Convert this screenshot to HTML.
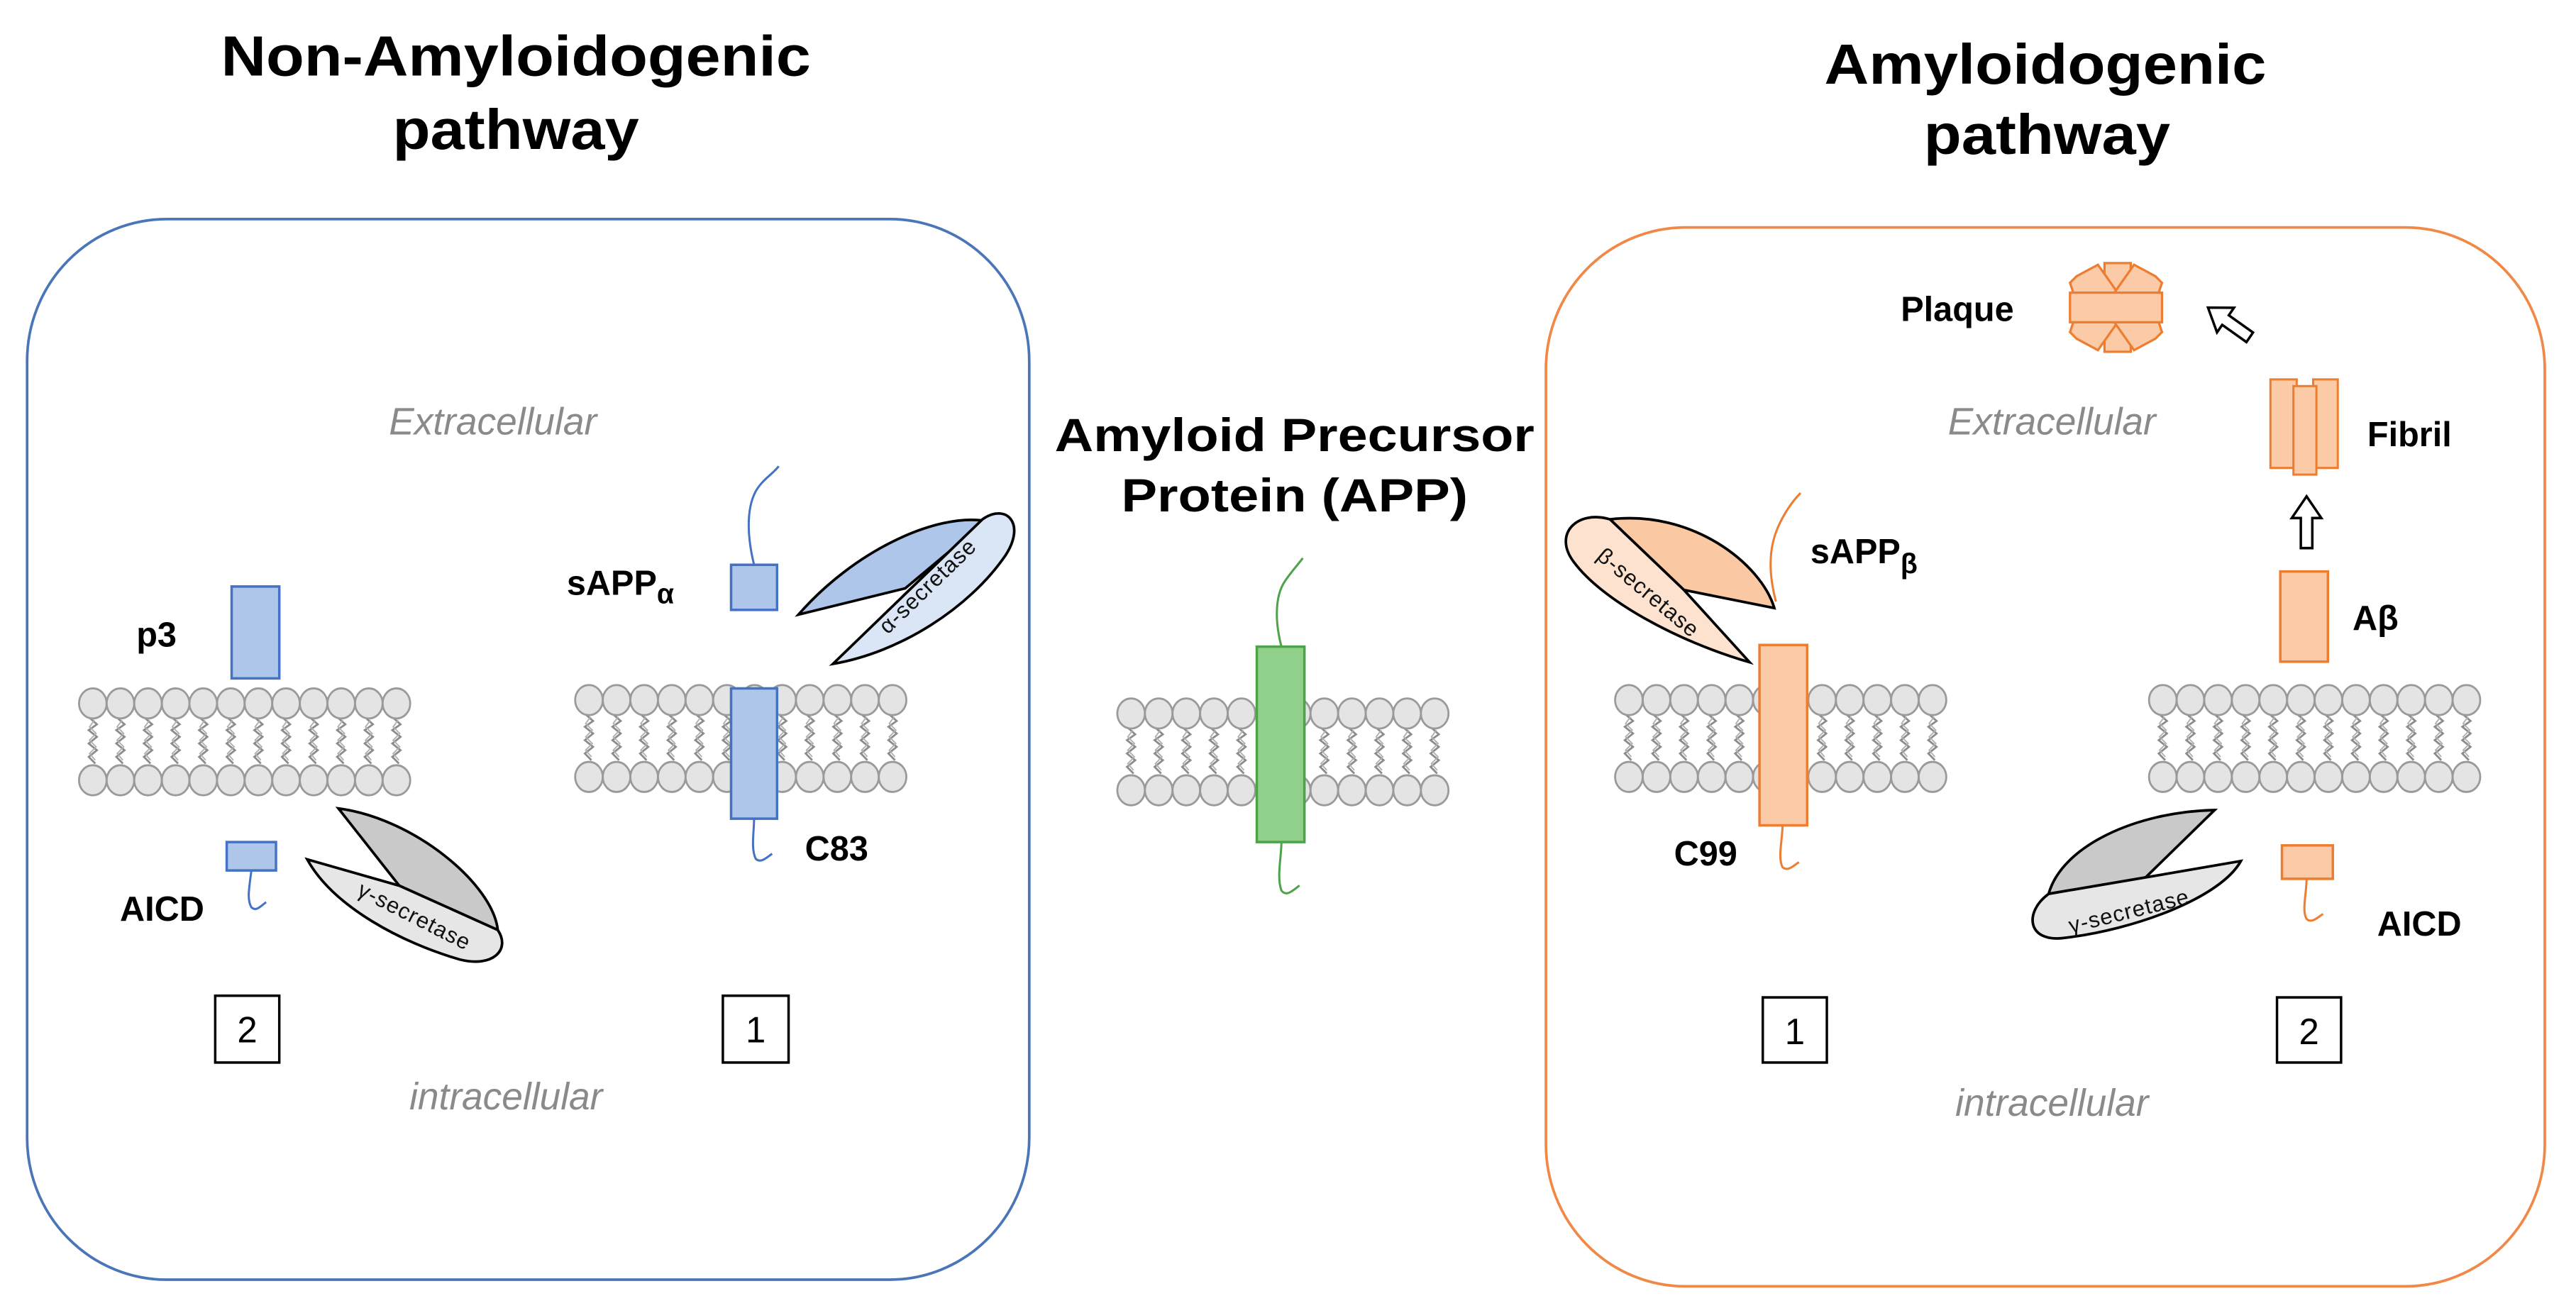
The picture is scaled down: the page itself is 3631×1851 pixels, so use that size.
<!DOCTYPE html>
<html><head><meta charset="utf-8"><style>
html,body{margin:0;padding:0;background:#fff;}
svg{display:block;}
text{font-family:"Liberation Sans",sans-serif;}
.b{font-weight:bold;fill:#000;}
.it{font-style:italic;fill:#8a8a8a;font-size:23px;}
.num{font-size:22px;fill:#000;}
</style></head><body>
<svg width="3631" height="1851" viewBox="0 0 1568 799" xmlns="http://www.w3.org/2000/svg">
<defs>
<g id="lip">
<polyline points="-1.5,9 2.5,12.5 -2.5,16 2.5,20 -2.5,24 2.5,28 -2.5,32 1.5,36" fill="none" stroke="#8c8c8c" stroke-width="1.2"/>
<polyline points="1,10 -2,14 2,18 -2,22 2,26 -2,30 1.5,34" fill="none" stroke="#b0b0b0" stroke-width="0.8"/>
<ellipse cx="0" cy="0" rx="8.4" ry="9" fill="#e4e4e4" stroke="#9a9a9a" stroke-width="1.2"/>
<ellipse cx="0" cy="46" rx="8.4" ry="9" fill="#e4e4e4" stroke="#9a9a9a" stroke-width="1.2"/>
</g>
<g id="mem">
<use href="#lip" x="8.5"/><use href="#lip" x="25.3"/><use href="#lip" x="42.1"/><use href="#lip" x="58.9"/>
<use href="#lip" x="75.7"/><use href="#lip" x="92.5"/><use href="#lip" x="109.3"/><use href="#lip" x="126.1"/>
<use href="#lip" x="142.9"/><use href="#lip" x="159.7"/><use href="#lip" x="176.5"/><use href="#lip" x="193.3"/>
</g>
<polygon id="arr" points="0,0 -9,13 -3.5,13 -3.5,31 3.5,31 3.5,13 9,13" fill="#fff" stroke="#000" stroke-width="1.5" stroke-linejoin="miter"/>
</defs>

<g transform="scale(1,1.0168)">
<!-- Titles -->
<text class="b" x="314" y="45" font-size="34" text-anchor="middle" textLength="359" lengthAdjust="spacingAndGlyphs">Non-Amyloidogenic</text>
<text class="b" x="314" y="89" font-size="34" text-anchor="middle" textLength="150" lengthAdjust="spacingAndGlyphs">pathway</text>
<text class="b" x="1245" y="50" font-size="34" text-anchor="middle" textLength="269" lengthAdjust="spacingAndGlyphs">Amyloidogenic</text>
<text class="b" x="1246" y="92" font-size="34" text-anchor="middle" textLength="150" lengthAdjust="spacingAndGlyphs">pathway</text>
<text class="b" x="788" y="270" font-size="28" text-anchor="middle" textLength="292" lengthAdjust="spacingAndGlyphs">Amyloid Precursor</text>
<text class="b" x="788" y="306" font-size="28" text-anchor="middle" textLength="211" lengthAdjust="spacingAndGlyphs">Protein (APP)</text>

<!-- Boxes -->
<rect x="16.5" y="131" width="610" height="635" rx="85" ry="85" fill="none" stroke="#4a76b8" stroke-width="1.6"/>
<rect x="941" y="136" width="608" height="634" rx="85" ry="85" fill="none" stroke="#f08848" stroke-width="1.6"/>

<text class="it" x="300" y="260" text-anchor="middle">Extracellular</text>
<text class="it" x="308" y="664" text-anchor="middle">intracellular</text>
<text class="it" x="1249" y="260" text-anchor="middle">Extracellular</text>
<text class="it" x="1249" y="668" text-anchor="middle">intracellular</text>

<!-- Membranes -->
<use href="#mem" x="48" y="421"/>
<use href="#mem" x="350" y="419"/>
<use href="#mem" x="680" y="427"/>
<use href="#mem" x="983" y="419"/>
<use href="#mem" x="1308" y="419"/>

<!-- Left pathway: step 2 -->
<rect x="141" y="351" width="29" height="55" fill="#adc6e9" stroke="#4472c4" stroke-width="1.5"/>
<text class="b" x="83" y="387" font-size="21">p3</text>
<rect x="138" y="504" width="30" height="17" fill="#adc6e9" stroke="#4472c4" stroke-width="1.5"/>
<path d="M153,521 C152,530 150,538 153,543 C156,546 159,542 162,540" fill="none" stroke="#4472c4" stroke-width="1.3"/>
<text class="b" x="73" y="551" font-size="21">AICD</text>

<!-- Left pathway: step 1 -->
<path d="M459,338 C455,322 454,305 460,294 C464,287 470,284 474,279" fill="none" stroke="#4472c4" stroke-width="1.3"/>
<rect x="445" y="338" width="28" height="27" fill="#adc6e9" stroke="#4472c4" stroke-width="1.5"/>
<text class="b" x="345" y="356" font-size="21">sAPP<tspan font-size="17" dy="5">α</tspan></text>
<rect x="445" y="412" width="28" height="78" fill="#adc6e9" stroke="#4472c4" stroke-width="1.5"/>
<path d="M459,490 C459,498 457,508 460,514 C463,517 467,513 470,511" fill="none" stroke="#4472c4" stroke-width="1.3"/>
<text class="b" x="490" y="515" font-size="21">C83</text>

<rect x="131" y="596" width="39" height="40" fill="#fff" stroke="#000" stroke-width="1.5"/>
<text class="num" x="150.5" y="624" text-anchor="middle">2</text>
<rect x="440" y="596" width="40" height="40" fill="#fff" stroke="#000" stroke-width="1.5"/>
<text class="num" x="460" y="624" text-anchor="middle">1</text>

<!-- APP -->
<path d="M780,387 C776,372 776,357 782,348 C786,342 790,338 793,334" fill="none" stroke="#4ea24a" stroke-width="1.3"/>
<rect x="765" y="387" width="29" height="117" fill="#8fd18a" stroke="#4ea24a" stroke-width="1.5"/>
<path d="M780,504 C780,513 777,525 780,533 C783,537 787,533 791,530" fill="none" stroke="#4ea24a" stroke-width="1.3"/>

<!-- Right pathway: step 1 -->
<path d="M1081,360 C1077,345 1076,330 1082,316 C1086,307 1091,300 1096,295" fill="none" stroke="#ed7d31" stroke-width="1.3"/>
<text class="b" x="1102" y="337" font-size="21">sAPP<tspan font-size="17" dy="6">β</tspan></text>
<rect x="1071" y="386" width="29" height="108" fill="#fbcaa6" stroke="#ed7d31" stroke-width="1.5"/>
<path d="M1085,494 C1085,503 1082,513 1085,519 C1088,522 1092,518 1095,516" fill="none" stroke="#ed7d31" stroke-width="1.3"/>
<text class="b" x="1019" y="518" font-size="21">C99</text>

<!-- Right pathway: step 2 -->
<rect x="1388" y="342" width="29" height="54" fill="#fbcaa6" stroke="#ed7d31" stroke-width="1.5"/>
<text class="b" x="1432" y="377" font-size="21">Aβ</text>
<use href="#arr" x="1404" y="297"/>
<rect x="1382" y="227" width="16" height="53" fill="#fbcaa6" stroke="#ed7d31" stroke-width="1.3"/>
<rect x="1408" y="227" width="15" height="53" fill="#fbcaa6" stroke="#ed7d31" stroke-width="1.3"/>
<rect x="1396" y="231" width="14" height="53" fill="#fbcaa6" stroke="#ed7d31" stroke-width="1.3"/>
<text class="b" x="1441" y="267" font-size="21">Fibril</text>
<g transform="translate(1344,184) rotate(-55)"><use href="#arr"/></g>
<text class="b" x="1157" y="192" font-size="21">Plaque</text>
<rect x="1389" y="506" width="31" height="20" fill="#fbcaa6" stroke="#ed7d31" stroke-width="1.5"/>
<path d="M1404,526 C1404,535 1401,545 1404,550 C1407,553 1411,549 1414,547" fill="none" stroke="#ed7d31" stroke-width="1.3"/>
<text class="b" x="1447" y="560" font-size="21">AICD</text>

<rect x="1073" y="597" width="39" height="39" fill="#fff" stroke="#000" stroke-width="1.5"/>
<text class="num" x="1092.5" y="625" text-anchor="middle">1</text>
<rect x="1386" y="597" width="39" height="39" fill="#fff" stroke="#000" stroke-width="1.5"/>
<text class="num" x="1405.5" y="625" text-anchor="middle">2</text>
</g>

<!-- Unscaled (true-coordinate) elements -->
<!-- gamma secretase left -->
<path d="M206,492 L243,539 L303,566 C300,538 252,498 206,492 Z" fill="#c9c9c9" stroke="#000" stroke-width="1.6"/>
<path d="M187,523 L243,539 L303,566 C311,578 300,589 280,584 C245,574 203,552 187,523 Z" fill="#e6e6e6" stroke="#000" stroke-width="1.6"/>
<text x="252" y="562" font-size="13.5" text-anchor="middle" transform="rotate(27 252 558)" fill="#111" letter-spacing="0.5">γ-secretase</text>

<!-- alpha secretase -->
<path d="M486,374 L551,358 L600,317 C570,312 520,335 486,374 Z" fill="#adc6e9" stroke="#000" stroke-width="1.6"/>
<path d="M507,404 L598,316 C612,306 625,318 612,338 C590,370 548,397 507,404 Z" fill="#dae6f5" stroke="#000" stroke-width="1.6"/>
<text x="565" y="361" font-size="13.5" text-anchor="middle" transform="rotate(-44 565 357)" fill="#111" letter-spacing="0.5">α-secretase</text>

<!-- beta secretase -->
<path d="M980,316 L1025,359 L1080,370 C1072,343 1030,310 980,316 Z" fill="#fbc8a4" stroke="#000" stroke-width="1.6"/>
<path d="M980,316 C960,310 945,325 958,342 C975,365 1020,390 1065,403 L1025,359 Z" fill="#fde2d0" stroke="#000" stroke-width="1.6"/>
<text x="1003" y="365" font-size="13.5" text-anchor="middle" transform="rotate(40 1003 361)" fill="#111" letter-spacing="0.5">β-secretase</text>

<!-- gamma secretase right -->
<path d="M1247,544 L1306,534 L1348,493 C1300,494 1255,515 1247,544 Z" fill="#c9c9c9" stroke="#000" stroke-width="1.6"/>
<path d="M1247,544 L1306,534 L1364,524 C1352,546 1300,566 1255,571 C1234,573 1232,555 1247,544 Z" fill="#e6e6e6" stroke="#000" stroke-width="1.6"/>
<text x="1296" y="559" font-size="13.5" text-anchor="middle" transform="rotate(-14 1296 555)" fill="#111" letter-spacing="0.5">γ-secretase</text>

<!-- plaque -->
<g stroke="#ed7d31" stroke-width="1.4" fill="#fbcaa6" stroke-linejoin="miter">
<polygon points="1281,160 1297,160 1297,170 1289,178 1281,170"/>
<polygon points="1264,168 1277,161 1289,178 1262,178 1260,172"/>
<polygon points="1312,168 1299,161 1287,178 1314,178 1316,172"/>
<polygon points="1281,214 1297,214 1297,204 1289,196 1281,204"/>
<polygon points="1264,206 1277,213 1289,196 1262,196 1260,202"/>
<polygon points="1312,206 1299,213 1287,196 1314,196 1316,202"/>
<rect x="1260" y="178" width="56" height="18"/>
</g>
</svg>
</body></html>
